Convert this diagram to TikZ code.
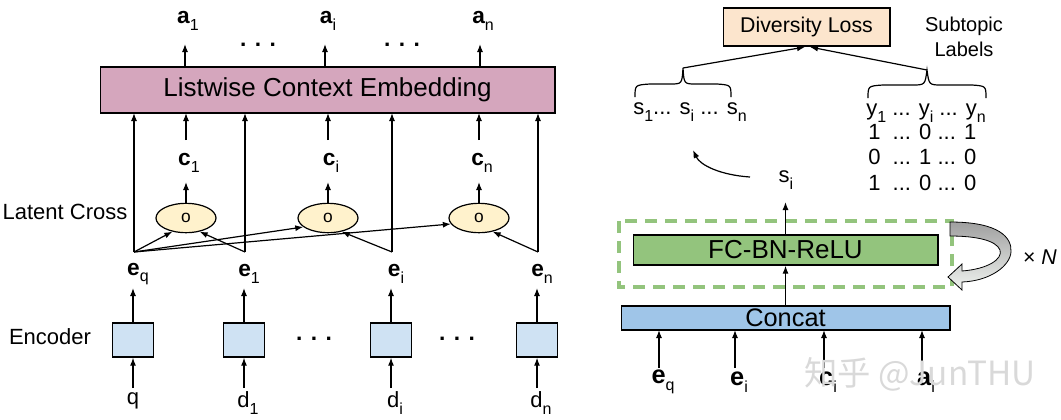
\documentclass[tikz,border=0pt]{standalone}
\usepackage{fontspec}
\setmainfont{Liberation Sans}
\newfontfamily\cjk{Noto Sans CJK SC}
\usetikzlibrary{arrows.meta,shapes.geometric}
\newcommand{\lbl}[2]{#1\raisebox{-0.55ex}{\fontsize{12}{12}\selectfont\mdseries #2}}
\definecolor{pinkc}{HTML}{D5A6BD}
\definecolor{peach}{HTML}{FCE5CD}
\definecolor{lblue}{HTML}{CFE2F3}
\definecolor{cblue}{HTML}{9FC5E8}
\definecolor{gfill}{HTML}{93C47D}
\definecolor{ellc}{HTML}{FFF2CC}
\begin{document}
\begin{tikzpicture}[x=0.75pt,y=-0.75pt,
  arr/.style={-{Latex[length=6pt,width=4.5pt]},line width=0.9pt},
  ln/.style={line width=0.9pt},
  box/.style={draw,line width=1pt,inner sep=0pt},
  enc/.style={box,fill=lblue,minimum width=31pt,minimum height=25.5pt},
  ell/.style={draw,ellipse,fill=ellc,line width=0.9pt,minimum width=45pt,minimum height=22pt,inner sep=0pt,font=\fontsize{13}{13}\selectfont},
  t/.style={font=\fontsize{16.5}{16.5}\selectfont,inner sep=0pt},
  bt/.style={font=\fontsize{17}{17}\selectfont\bfseries,inner sep=0pt},
  dots/.style={font=\fontsize{17}{17}\selectfont\bfseries,inner sep=0pt}]
\useasboundingbox (0,0) rectangle (1061,419);
% ---------- left ----------
\node[box,fill=pinkc,minimum width=341pt,minimum height=34.5pt,font=\fontsize{19.5}{19.5}\selectfont] (lce) at (327.5,90) {Listwise Context Embedding};
\foreach \n/\x/\s in {a1/185/1,ai/325/i,an/480/n}{
  \node[bt] (\n) at (\x+3,21) {\lbl{a}{\s}};
  \coordinate (\n b) at (\x,67);
  \draw[arr] (\n b) -- (\x,44);
}
\node[dots] (td1) at (258,45) {. . .};
\node[dots] (td2) at (402,45) {. . .};
\foreach \n/\x/\s in {1/186/1,i/328/i,n/479/n}{
  \node[ell] (o\n) at (\x,218) {o};
  \node[bt] (c\n) at (\x+3,163) {\lbl{c}{\s}};
  \draw[arr] (o\n.north) -- (\x,182);
  \draw[arr] (\x,140) -- (\x,113);
}
\node[t] (lc) at (65,212) {Latent Cross};
\node[t] (encl) at (50,337) {Encoder};
\foreach \n/\x/\e/\d in {q/134/q/q,1/245/1/1,i/392/i/i,n/538/n/n}{
  \coordinate (v\n) at (\x,252);
  \node[enc] (b\n) at (\x-1,340) {};
  \node[bt] (e\n) at (\x+4,274) {\lbl{e}{\e}};
  \draw[arr] (b\n.north) -- (\x-1,288);
  \draw[arr] (\x-1,388) -- (b\n.south);
  \draw[arr] (v\n) -- (\x,113);
}
\node[t] (lq) at (133,401) {q};
\node[t] (l1) at (248,403) {\lbl{d}{1}};
\node[t] (li) at (395,403) {\lbl{d}{i}};
\node[t] (ln) at (541,403) {\lbl{d}{n}};
\node[dots] (bd1) at (314,339) {. . .};
\node[dots] (bd2) at (457,339) {. . .};
\draw[arr] (vq) -- (o1.-135);
\draw[arr] (vq) -- (oi.-160);
\draw[arr] (vq) -- (on.-168);
\draw[arr] (v1) -- (o1.-45);
\draw[arr] (vi) -- (oi.-45);
\draw[arr] (vn) -- (on.-45);
% ---------- right ----------
\node[box,fill=peach,minimum width=125pt,minimum height=28.5pt,font=\fontsize{16}{16}\selectfont] (dl) at (806.5,27) {Diversity Loss};
\node[t,align=center,font=\fontsize{15}{15}\selectfont] (sub) at (964,37) {Subtopic\\[4pt]Labels};
\coordinate (lb) at (683,68);
\coordinate (rb) at (927,70);
\draw[arr] (lb) -- (805,47);
\draw[arr] (rb) -- (810,47);
\draw[ln] (635,97) .. controls (635,85) .. (650,84) -- (670,84) .. controls (682,84) .. (683,68)
  .. controls (684,84) .. (696,84) -- (717,84) .. controls (731,85) .. (731,97);
\draw[ln] (868,98) .. controls (868,86) .. (883,85) -- (912,85) .. controls (925,85) .. (927,70)
  .. controls (929,85) .. (942,85) -- (972,85) .. controls (986,86) .. (986,98);
\node[t,anchor=west] (sl) at (633,112) {\lbl{s}{1}... \lbl{s}{i} ... \lbl{s}{n}};
\node[t,anchor=west] (y1) at (866,113) {\lbl{y}{1} ... \lbl{y}{i} ... \lbl{y}{n}};
\node[t,anchor=west] (y2) at (868,132) {1 \ ... 0 ... 1};
\node[t,anchor=west] (y3) at (868,157) {0 \ ... 1 ... 0};
\node[t,anchor=west] (y4) at (868,183) {1 \ ... 0 ... 0};
\node[t] (si) at (786,180) {\lbl{s}{i}};
\draw[arr] (750,177) .. controls (720,175) and (700,165) .. (693,150);
\draw[draw=gfill,line width=2.6pt,dash pattern=on 9pt off 6pt] (619,221) rectangle (952,287);
\node[box,fill=gfill,minimum width=228.5pt,minimum height=22.5pt,font=\fontsize{19.5}{19.5}\selectfont] (fc) at (785.5,250) {FC-BN-ReLU};
\node[box,fill=cblue,minimum width=246.5pt,minimum height=18pt,font=\fontsize{19}{19}\selectfont] (cc) at (785.5,318) {Concat};
\draw[arr] (fc.north) -- (785.5,202);
\draw[arr] (cc.north) -- (fc.south);
\foreach \n/\x/\l/\s in {eq/659/e/q,ei/735/e/i,ci/824/c/i,ai/922/a/i}{
  \node[bt,font=\fontsize{19}{19}\selectfont\bfseries] (\n) at (\x+4,382) {\lbl{\l}{\s}};
  \draw[arr] (\x,368) -- (\x,330);
}
% loop arrow
\shade[top color=gray!75,bottom color=green!12!gray!10,draw=black,line width=0.6pt]
  (950,222) .. controls (1000,222) and (1012,238) .. (1011,252)
  .. controls (1010,266) and (990,281) .. (962,282) -- (962,290) -- (948,277) -- (962,264) -- (962,271)
  .. controls (988,269) and (1003,259) .. (1000,250) .. controls (996,240) and (975,236) .. (950,236) -- cycle;
\node[font=\fontsize{16}{16}\selectfont,inner sep=0pt] (xn) at (1040,257) {× \textit{N}};
\node[font=\cjk\fontsize{25}{25}\selectfont,text=gray!30,inner sep=0pt] (wm) at (920,374) {知乎 @JunTHU};
\end{tikzpicture}
\end{document}
